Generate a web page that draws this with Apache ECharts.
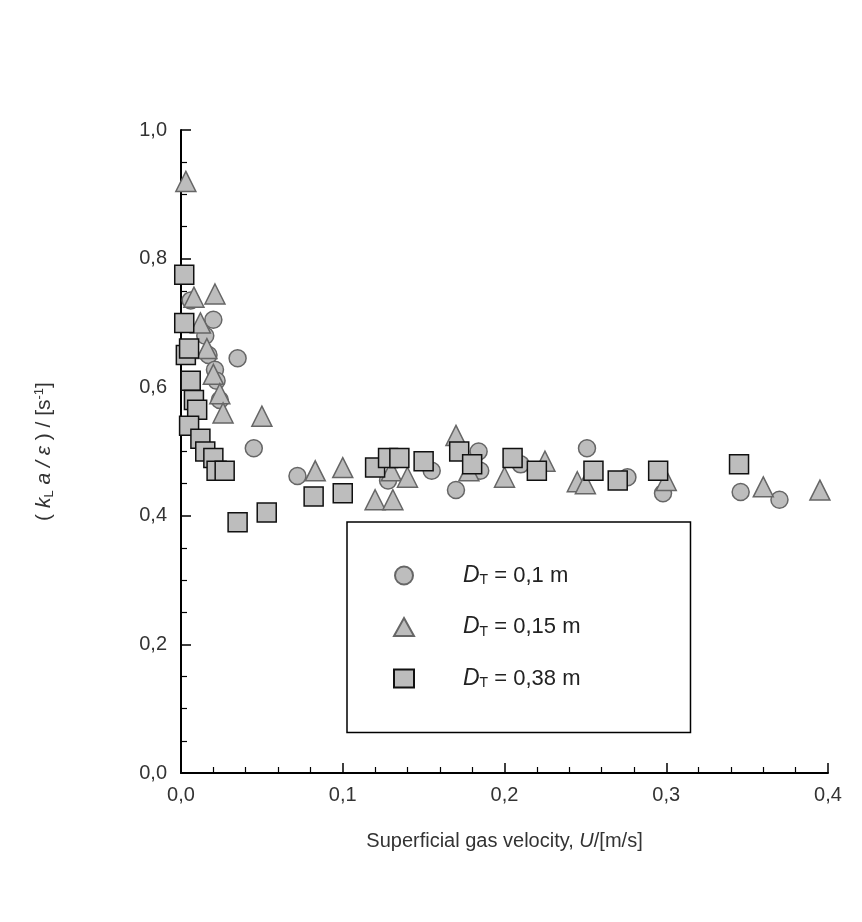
<!DOCTYPE html>
<html>
<head>
<meta charset="UTF-8">
<script src="https://cdn.jsdelivr.net/npm/echarts@6/dist/echarts.min.js"></script>
<style>html,body,#chart{width:100%;height:100%;margin:0;padding:0;background:#fff}</style>
</head>
<body>
<div id="chart"></div>
<script>
const circles = [[0.006,0.735],[0.015,0.68],[0.017,0.65],[0.020,0.705],[0.021,0.627],[0.022,0.61],[0.024,0.58],
  [0.035,0.645],[0.045,0.505],[0.072,0.462],[0.128,0.455],[0.155,0.47],[0.17,0.44],[0.184,0.50],[0.185,0.47],
  [0.21,0.48],[0.251,0.505],[0.276,0.46],[0.298,0.435],[0.346,0.437],[0.37,0.425]]
const triangles = [[0.003,0.92],[0.021,0.745],[0.008,0.74],[0.012,0.70],[0.016,0.66],[0.02,0.62],[0.024,0.59],
  [0.026,0.56],[0.05,0.555],[0.083,0.47],[0.1,0.475],[0.12,0.425],[0.131,0.425],[0.13,0.47],[0.14,0.46],
  [0.17,0.525],[0.178,0.47],[0.2,0.46],[0.225,0.485],[0.245,0.453],[0.25,0.45],[0.3,0.455],[0.36,0.445],[0.395,0.44]]
const squares = [[0.002,0.775],[0.002,0.70],[0.003,0.65],[0.005,0.66],[0.006,0.61],[0.008,0.58],[0.01,0.565],
  [0.005,0.54],[0.012,0.52],[0.015,0.5],[0.02,0.49],[0.022,0.47],[0.027,0.47],[0.035,0.39],[0.053,0.405],
  [0.082,0.43],[0.1,0.435],[0.12,0.475],[0.128,0.49],[0.135,0.49],[0.15,0.485],[0.172,0.5],[0.18,0.48],
  [0.205,0.49],[0.22,0.47],[0.255,0.47],[0.27,0.455],[0.295,0.47],[0.345,0.48]]
const legendNames = ['{i|D}{s|T} = 0,1 m', '{i|D}{s|T} = 0,15 m', '{i|D}{s|T} = 0,38 m']

const font = 'Liberation Sans'
const comma = v => v.toFixed(1).replace('.', ',')
const chart = echarts.init(document.getElementById('chart'))
const mk = (name, data, symbol, size, border) => ({
  name, type: 'scatter', data, symbol, symbolSize: size,
  itemStyle: { color: '#bdbdbd', borderColor: border, borderWidth: 1.5, opacity: 1 }
})
chart.setOption({
  animation: false,
  textStyle: { fontFamily: font },
  grid: { left: 181, right: 34, top: 130, bottom: 149 },
  legend: {
    orient: 'vertical', left: 347, top: 522,
    padding: [42, 110, 42, 46], itemGap: 28, itemWidth: 20, itemHeight: 18,
    borderColor: '#000', borderWidth: 1.5,
    data: legendNames,
    formatter: n => n,
    textStyle: { fontSize: 22, color: '#222', padding: [0, 0, 0, 44],
      rich: { i: { fontSize: 23, fontStyle: 'italic', color: '#222' }, s: { fontSize: 14, color: '#222', padding: [10, 0, 0, 0] } } }
  },
  xAxis: {
    type: 'value', min: 0, max: 0.4, interval: 0.1,
    name: 'Superficial gas velocity, {i|U}/[m/s]', nameLocation: 'middle', nameGap: 58,
    nameTextStyle: { fontSize: 20, color: '#333', rich: { i: { fontSize: 20, fontStyle: 'italic', color: '#333' } } },
    axisLine: { lineStyle: { color: '#000', width: 2 } },
    axisTick: { inside: true, length: 10, lineStyle: { width: 1.5 } },
    minorTick: { show: true, splitNumber: 5, length: 6, lineStyle: { color: '#000', width: 1.2 } },
    axisLabel: { fontSize: 20, color: '#333', margin: 12, formatter: comma },
    splitLine: { show: false }
  },
  yAxis: {
    type: 'value', min: 0, max: 1, interval: 0.2,
    name: '( {i|k}{s|L}{i| a / ε} ) / [s{p|-1}]', nameLocation: 'middle', nameGap: 125,
    nameTextStyle: { fontSize: 21, color: '#333', rich: {
      i: { fontSize: 21, fontStyle: 'italic', color: '#333' },
      s: { fontSize: 13, color: '#333', padding: [10, 0, 0, 0] },
      p: { fontSize: 13, color: '#333', padding: [0, 0, 10, 0] } } },
    axisLine: { show: true, lineStyle: { color: '#000', width: 2 } },
    axisTick: { inside: true, length: 10, lineStyle: { width: 1.5 } },
    minorTick: { show: true, splitNumber: 4, length: 6, lineStyle: { color: '#000', width: 1.2 } },
    axisLabel: { fontSize: 20, color: '#333', margin: 14, formatter: comma },
    splitLine: { show: false }
  },
  series: [
    mk(legendNames[0], circles, 'circle', 17, '#666'),
    mk(legendNames[1], triangles, 'triangle', 20, '#666'),
    mk(legendNames[2], squares, 'rect', 19, '#111')
  ]
})
</script>
</body>
</html>
